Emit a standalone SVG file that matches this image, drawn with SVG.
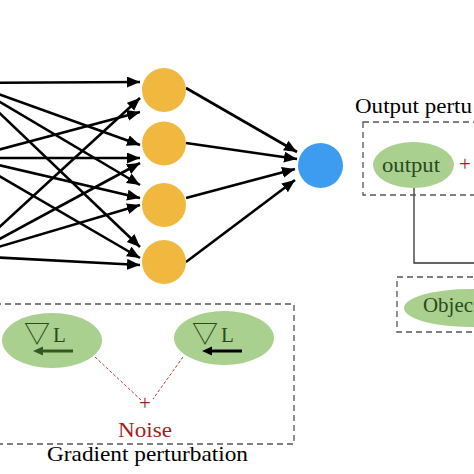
<svg xmlns="http://www.w3.org/2000/svg" width="474" height="474" viewBox="0 0 474 474">
<style>
.c{stroke:#000;stroke-width:2.6;fill:none;marker-end:url(#ah)}
.hid{fill:#f0b83f}
.box{fill:none;stroke:#555;stroke-width:1.3;stroke-dasharray:6 4}
.ell{fill:#a9d08e}
.t{font-family:"Liberation Serif","Times New Roman",serif;font-size:21px}
.g{fill:#2b4a1c}
.red{fill:#a51d1d}
.rl{stroke:#b03a3a;stroke-width:1;stroke-dasharray:3 2;fill:none}
.nab{font-family:"Noto Sans CJK SC","DejaVu Sans",sans-serif;font-size:26px}
</style>
<defs>
<marker id="ah" markerUnits="userSpaceOnUse" markerWidth="14" markerHeight="12" refX="13" refY="5.5" orient="auto">
<path d="M0,0 L13,5.5 L0,11 z" fill="#000"/>
</marker>
</defs>
<g id="connectors">
<line class="c" x1="-32" y1="83" x2="140" y2="82"/>
<line class="c" x1="-32" y1="83" x2="140" y2="145"/>
<line class="c" x1="-32" y1="83" x2="140" y2="185"/>
<line class="c" x1="-32" y1="83" x2="140" y2="247"/>
<line class="c" x1="-32" y1="158" x2="140" y2="112"/>
<line class="c" x1="-32" y1="158" x2="140" y2="158"/>
<line class="c" x1="-32" y1="158" x2="140" y2="198"/>
<line class="c" x1="-32" y1="158" x2="140" y2="258"/>
<line class="c" x1="-32" y1="256" x2="140" y2="98"/>
<line class="c" x1="-32" y1="256" x2="140" y2="163"/>
<line class="c" x1="-32" y1="256" x2="140" y2="205"/>
<line class="c" x1="-32" y1="256" x2="140" y2="265"/>
<line class="c" x1="186" y1="88" x2="297" y2="152"/>
<line class="c" x1="186" y1="143" x2="297" y2="159"/>
<line class="c" x1="186" y1="198" x2="295" y2="169"/>
<line class="c" x1="186" y1="262" x2="295" y2="180"/>
<path d="M414,188 V263 H480" fill="none" stroke="#333" stroke-width="1.3"/>
<line class="rl" x1="95" y1="357" x2="141" y2="400"/>
<line class="rl" x1="183" y1="357" x2="153" y2="399"/>
</g>
<g id="hidden1"><circle class="hid" cx="164" cy="90" r="22"/></g>
<g id="hidden2"><circle class="hid" cx="164" cy="143.5" r="22"/></g>
<g id="hidden3"><circle class="hid" cx="164" cy="205" r="22"/></g>
<g id="hidden4"><circle class="hid" cx="164" cy="262" r="22"/></g>
<g id="outnode"><circle cx="320.5" cy="165.5" r="22.5" fill="#3d9cf0"/></g>
<g id="output-perturbation">
<text class="t" x="355" y="113" textLength="117" lengthAdjust="spacingAndGlyphs">Output pertu</text>
<rect class="box" x="363" y="122" width="130" height="73"/>
<ellipse class="ell" cx="413.5" cy="165" rx="40.5" ry="23"/>
<text class="t g" x="382" y="172" textLength="58" lengthAdjust="spacingAndGlyphs">output</text>
<text class="t red" x="465" y="171" text-anchor="middle" font-size="20">+</text>
</g>
<g id="objective-perturbation">
<rect class="box" x="397" y="277" width="100" height="55"/>
<ellipse class="ell" cx="470" cy="308" rx="66" ry="19"/>
<text class="t g" x="423" y="312" font-size="25" textLength="50" lengthAdjust="spacingAndGlyphs">Objec</text>
</g>
<g id="gradient-perturbation">
<rect class="box" x="-5" y="304" width="299" height="140"/>
<text class="t" x="47" y="461" textLength="201" lengthAdjust="spacingAndGlyphs">Gradient perturbation</text>
</g>
<g id="grad-left">
<ellipse class="ell" cx="52" cy="340.5" rx="50" ry="27.5"/>
<text class="nab g" x="24" y="343">▽</text>
<text class="t g" x="53" y="342" font-size="23">L</text>
<line x1="73" y1="351" x2="42" y2="351" stroke="#375623" stroke-width="3"/>
<path d="M33,351 L43,346.5 L43,355.5 z" fill="#375623"/>
</g>
<g id="grad-right">
<ellipse class="ell" cx="224" cy="338" rx="50" ry="27"/>
<text class="nab g" x="192" y="343">▽</text>
<text class="t g" x="221" y="342" font-size="23">L</text>
<line x1="242" y1="351" x2="211" y2="351" stroke="#000" stroke-width="3"/>
<path d="M202,351 L212,346.5 L212,355.5 z" fill="#000"/>
</g>
<g id="noise">
<text class="t red" x="145" y="410" text-anchor="middle" font-size="16">+</text>
<text class="t red" x="118" y="437" textLength="54" lengthAdjust="spacingAndGlyphs">Noise</text>
</g>
</svg>
